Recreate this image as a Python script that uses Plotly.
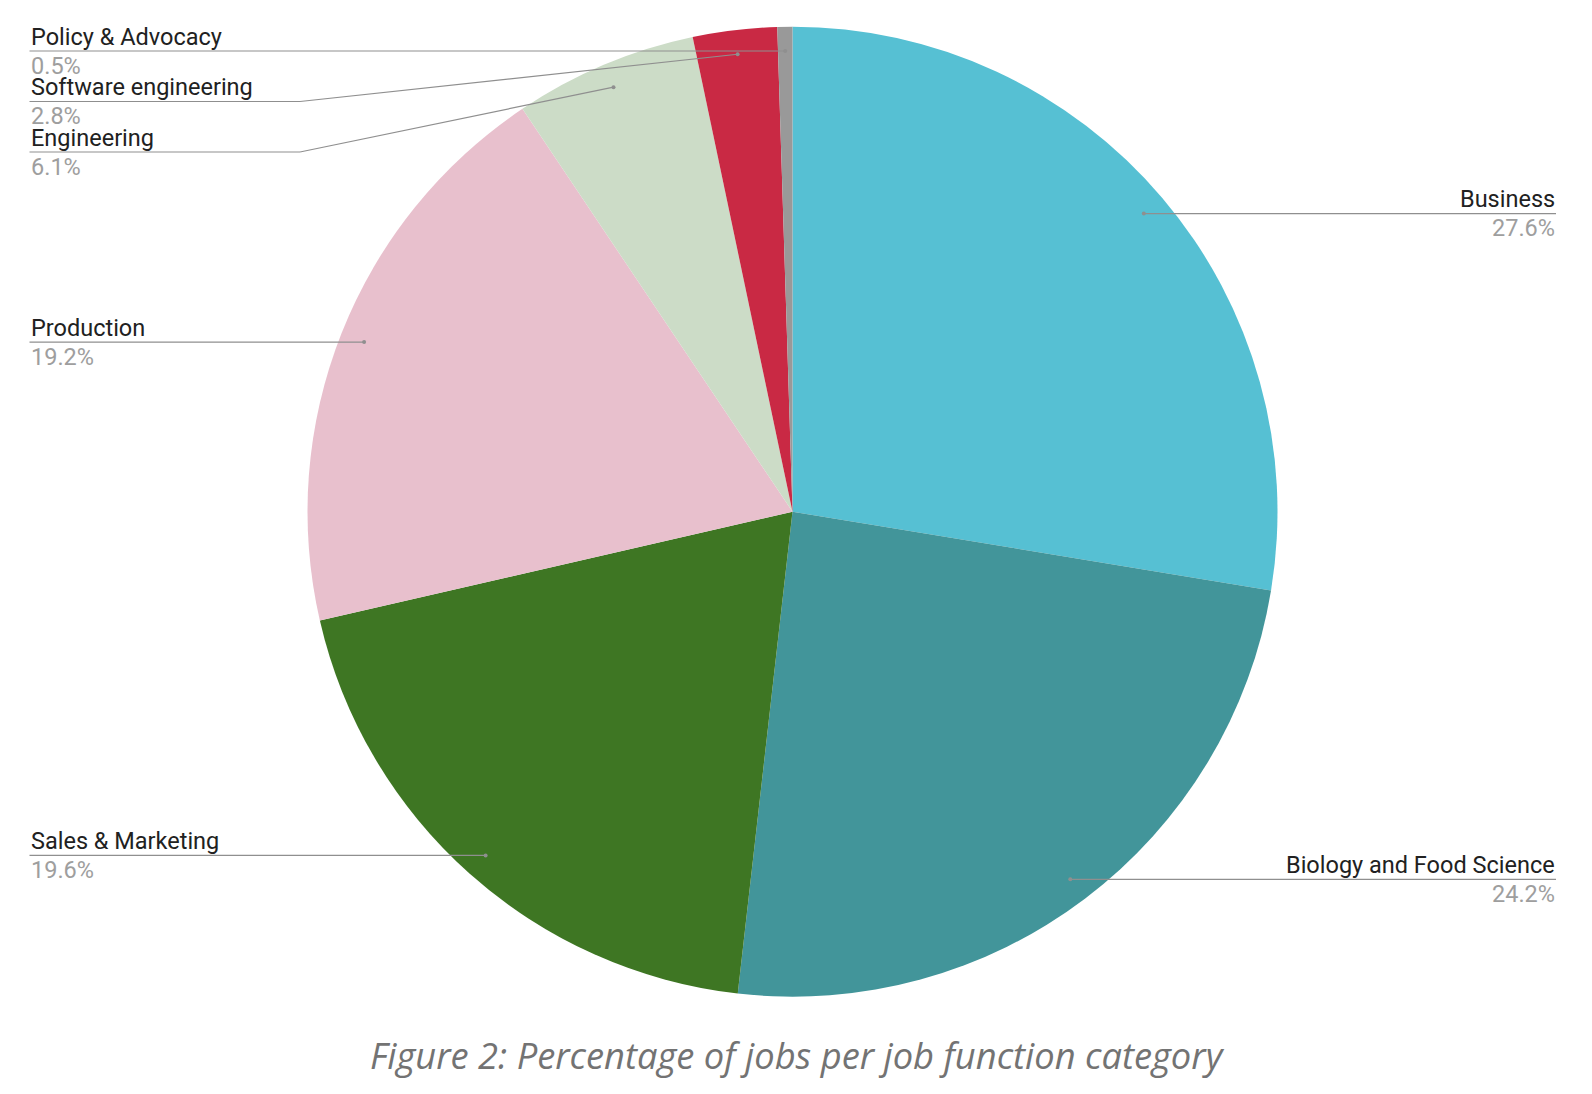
import math
import plotly.graph_objects as go

categories = ["Business", "Biology and Food Science", "Sales & Marketing", "Production",
              "Engineering", "Software engineering", "Policy & Advocacy"]
values = [27.6, 24.2, 19.6, 19.2, 6.1, 2.8, 0.5]
colors = ["#56C0D3", "#42959A", "#3E7623", "#E8C0CD", "#CCDCC7", "#C92944", "#999999"]
title_text = "Figure 2: Percentage of jobs per job function category"

W, H = 1592, 1094
OFF = 8.0  # page body margin
CX, CY, R = 792.5 - OFF, 511.7 - OFF, 485.0   # pie centre / radius in pixels
DOT_FRAC = 0.95
LEFT_X, RIGHT_X = 29.5 - OFF, 1556 - OFF
ELBOW_X = 300.0 - OFF
MIN_GAP = 50.5
FS = 23.5

def px(x):
    return x / W

def py(y):
    return 1 - y / H

fig = go.Figure()
fig.add_trace(go.Pie(
    labels=categories, values=values, sort=False, direction="clockwise", rotation=0,
    marker=dict(colors=colors, line=dict(width=0)), textinfo="none", showlegend=False,
    hoverinfo="label+percent",
    domain=dict(x=[px(CX - R), px(CX + R)], y=[py(CY + R), py(CY - R)]),
))

total = sum(values)
dots = []
cum = 0.0
for name, v in zip(categories, values):
    mid = (cum + v / 2) / total * 2 * math.pi
    cum += v
    dx, dy = math.sin(mid), -math.cos(mid)
    dots.append((name, v, CX + DOT_FRAC * R * dx, CY + DOT_FRAC * R * dy, dx >= 0))

# label y positions: start from dot y, push apart on each side
left = sorted([d for d in dots if not d[4]], key=lambda d: d[3])
right = sorted([d for d in dots if d[4]], key=lambda d: d[3])
placed = []
for side in (left, right):
    last = -1e9
    for d in side:
        ly = max(d[3], last + MIN_GAP)
        last = ly
        placed.append((d, ly))

shapes = []
annotations = []
line_style = dict(color="#8f8f8f", width=1.2)
for (name, v, dxp, dyp, is_right), ly in placed:
    if is_right:
        shapes.append(dict(type="line", xref="paper", yref="paper", x0=px(dxp), y0=py(ly),
                           x1=px(RIGHT_X), y1=py(ly), line=line_style, layer="above"))
        xa, xan = px(RIGHT_X), "right"
    else:
        if abs(ly - dyp) > 0.5:
            shapes.append(dict(type="line", xref="paper", yref="paper", x0=px(dxp), y0=py(dyp),
                               x1=px(ELBOW_X), y1=py(ly), line=line_style, layer="above"))
            shapes.append(dict(type="line", xref="paper", yref="paper", x0=px(ELBOW_X), y0=py(ly),
                               x1=px(LEFT_X), y1=py(ly), line=line_style, layer="above"))
        else:
            shapes.append(dict(type="line", xref="paper", yref="paper", x0=px(dxp), y0=py(ly),
                               x1=px(LEFT_X), y1=py(ly), line=line_style, layer="above"))
        xa, xan = px(LEFT_X), "left"
    shapes.append(dict(type="circle", xref="paper", yref="paper",
                       x0=px(dxp - 2), x1=px(dxp + 2), y0=py(dyp - 2), y1=py(dyp + 2),
                       fillcolor="#8f8f8f", line=dict(width=0), layer="above"))
    annotations.append(dict(x=xa, y=py(ly), xref="paper", yref="paper", xanchor=xan,
                            yanchor="bottom", text=name, showarrow=False, borderpad=0,
                            yshift=-0.5,
                            font=dict(family="Roboto", size=FS, color="#212121")))
    annotations.append(dict(x=xa, y=py(ly), xref="paper", yref="paper", xanchor=xan,
                            yanchor="top", text=f"{v:.1f}%", showarrow=False, borderpad=0,
                            yshift=0.5,
                            font=dict(family="Roboto", size=FS, color="#9e9e9e")))

annotations.append(dict(x=px(797 - OFF), y=py(1055 - OFF), xref="paper", yref="paper",
                        xanchor="center", yanchor="middle", text=f"<i>{title_text}</i>",
                        showarrow=False,
                        font=dict(family="Open Sans", size=36.3, color="#737373")))

fig.update_layout(width=W, height=H, margin=dict(l=0, r=0, t=0, b=0),
                  paper_bgcolor="white", plot_bgcolor="white",
                  shapes=shapes, annotations=annotations)
fig.write_html("out.html")
